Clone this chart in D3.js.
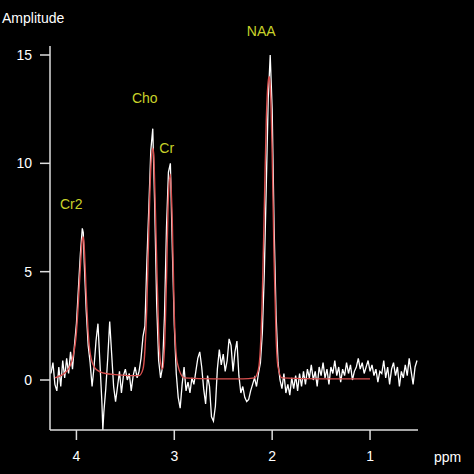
<!DOCTYPE html>
<html><head><meta charset="utf-8">
<script src="https://cdn.jsdelivr.net/npm/d3@7"></script>
<style>body{margin:0;background:#000}</style>
</head><body>
<script>
// measured spectrum (ppm, amplitude)
const specPpm = [4.26,4.24,4.22,4.20,4.18,4.16,4.14,4.12,4.10,4.08,4.06,4.04,4.02,4.00,3.98,3.96,3.94,3.93,3.92,3.90,3.88,3.86,3.84,3.82,3.80,3.78,3.76,3.74,3.73,3.72,3.70,3.68,3.66,3.64,3.62,3.60,3.58,3.56,3.54,3.52,3.50,3.48,3.46,3.44,3.42,3.40,3.38,3.36,3.34,3.32,3.30,3.28,3.26,3.24,3.22,3.20,3.18,3.16,3.14,3.12,3.10,3.08,3.06,3.04,3.02,3.00,
  2.98,2.96,2.94,2.92,2.90,2.88,2.86,2.84,2.82,2.80,2.78,2.76,2.74,2.72,2.70,2.68,2.66,2.64,2.62,2.60,2.58,2.56,2.54,2.52,2.50,2.48,2.46,2.44,2.42,2.40,2.38,2.36,2.34,2.32,2.30,2.28,2.26,2.24,2.22,2.20,2.18,2.16,2.14,
  2.12,2.10,2.08,2.06,2.04,2.02,2.00,1.98,1.96,1.94,1.92,
  1.90,1.88,1.86,1.84,1.82,1.80,1.78,1.76,1.74,1.72,1.70,1.68,1.66,1.64,1.62,1.60,1.58,1.56,1.54,1.52,1.50,1.48,1.46,1.44,1.42,1.40,1.38,1.36,1.34,1.32,1.30,1.28,1.26,1.24,1.22,1.20,1.18,1.16,1.14,1.12,1.10,1.08,1.06,1.04,1.02,1.00,0.98,0.96,0.94,0.92,0.90,0.88,0.86,0.84,0.82,0.80,0.78,0.76,0.74,0.72,0.70,0.68,0.66,0.64,0.62,0.60,0.58,0.56,0.54,0.52];
const specAmp = [0.3,0.8,-0.2,-0.5,0.6,-0.3,0.9,0.1,1.0,0.3,1.3,0.5,1.6,2.6,4.2,5.8,7.0,6.8,5.4,3.2,1.6,0.8,-0.3,0.6,1.8,2.6,0.8,-1.0,-2.3,-1.5,-0.4,1.0,2.7,1.2,-0.3,-1.0,-0.3,0.4,-0.6,0.2,0.5,0.0,0.3,-0.5,0.2,0.6,0.1,0.4,1.0,2.0,2.5,5.5,8.0,10.6,11.6,8.0,3.5,0.9,0.1,0.6,3.0,7.0,9.6,10.0,6.0,2.5,
  0.3,-0.8,-1.3,-0.2,0.6,-0.5,-0.1,-0.6,0.1,-0.2,0.4,1.0,1.3,0.6,-0.4,-1.1,0.2,-0.3,-1.7,-1.9,-1.2,0.5,1.4,0.7,1.2,0.4,0.9,1.9,1.6,0.4,1.3,1.8,0.2,-0.6,-0.3,-0.8,-1.0,-0.9,-0.5,-0.2,0.1,-0.3,0.3,
  0.8,2.2,5.0,9.0,13.0,15.0,12.5,7.0,3.0,0.8,0.0,
  -0.4,0.3,-0.6,-0.2,-0.7,0.1,-0.4,0.2,-0.5,0.3,-0.3,0.4,-0.2,0.5,0.1,0.7,0.0,0.4,-0.3,0.6,0.2,0.8,0.1,0.5,-0.2,0.6,0.3,0.9,0.2,0.6,-0.1,0.5,0.2,0.8,0.3,0.7,0.0,0.4,0.6,1.0,0.5,0.8,0.3,0.6,0.9,0.4,0.7,0.2,0.5,-0.1,0.4,0.3,0.9,0.1,0.6,-0.2,0.5,0.8,0.2,0.6,-0.3,0.4,0.1,0.7,0.2,1.0,0.4,-0.2,0.6,0.9];

// fitted model
const fitPpm = [4.22,4.10,4.04,4.00,3.98,3.96,3.94,3.93,3.92,3.90,3.88,3.85,3.80,3.70,3.60,3.45,3.36,3.32,3.30,3.28,3.26,3.24,3.22,3.21,3.20,3.18,3.16,3.14,3.12,3.10,3.08,3.06,3.04,3.02,3.00,2.97,2.90,2.60,2.30,2.18,2.14,2.12,2.10,2.08,2.06,2.04,2.03,2.02,2.00,1.98,1.96,1.94,1.90,1.50,1.00];
const fitAmp = [0.1,0.4,1.0,2.2,3.6,5.2,6.5,6.6,6.1,4.0,2.2,1.0,0.5,0.3,0.25,0.2,0.2,0.5,1.4,3.5,7.0,9.8,10.7,10.4,9.0,5.5,2.2,0.8,0.5,1.5,4.6,8.5,9.5,7.2,3.0,0.8,0.1,0.05,0.05,0.1,0.5,1.5,4.0,8.0,12.0,13.8,14.0,13.6,10.5,5.5,2.0,0.6,0.1,0.05,0.05];

const yTicks = [0,5,10,15];
const xTicks = [4,3,2,1];
const peakNames = ['NAA','Cho','Cr','Cr2'];
const peakPpm = [2.03,3.22,3.01,3.93];
const peakAmp = [15.9,12.8,10.5,7.8];

const svg = d3.select('body').append('svg')
    .attr('width', 474).attr('height', 474)
    .style('background', '#000')
    .style('font-family', 'Arial, Liberation Sans, sans-serif');

const x = d3.scaleLinear().domain([4.27, 0.51]).range([50, 418]);
const y = d3.scaleLinear().domain([0, 15]).range([380, 55]);

// axes
svg.append('line').attr('x1', 50).attr('x2', 50).attr('y1', 46).attr('y2', 430)
    .attr('stroke', '#ddd').attr('stroke-width', 1.5);
svg.append('line').attr('x1', 50).attr('x2', 418).attr('y1', 430).attr('y2', 430)
    .attr('stroke', '#ddd').attr('stroke-width', 1.5);

svg.selectAll('.yt').data(yTicks).enter().append('line')
    .attr('x1', 40).attr('x2', 50).attr('y1', d => y(d)).attr('y2', d => y(d))
    .attr('stroke', '#ddd').attr('stroke-width', 1.5);
svg.selectAll('.yl').data(yTicks).enter().append('text')
    .attr('x', 32).attr('y', d => y(d) + 5).attr('text-anchor', 'end')
    .attr('fill', '#fff').style('font-size', '14px').text(d => d);

svg.selectAll('.xt').data(xTicks).enter().append('line')
    .attr('x1', d => x(d)).attr('x2', d => x(d)).attr('y1', 430).attr('y2', 440)
    .attr('stroke', '#ddd').attr('stroke-width', 1.5);
svg.selectAll('.xl').data(xTicks).enter().append('text')
    .attr('x', d => x(d)).attr('y', 461).attr('text-anchor', 'middle')
    .attr('fill', '#fff').style('font-size', '14px').text(d => d);

svg.append('text').attr('x', 2).attr('y', 23).attr('fill', '#fff')
    .style('font-size', '14px').text('Amplitude');
svg.append('text').attr('x', 434).attr('y', 462).attr('fill', '#fff')
    .style('font-size', '14px').text('ppm');

// traces
const line = d3.line().x(d => x(d[0])).y(d => y(d[1]));
svg.append('path').datum(d3.zip(specPpm, specAmp))
    .attr('d', line).attr('fill', 'none').attr('stroke', '#fff').attr('stroke-width', 1.3);
svg.append('path').datum(d3.zip(fitPpm, fitAmp))
    .attr('d', line.curve(d3.curveMonotoneX)).attr('fill', 'none')
    .attr('stroke', '#d9504f').attr('stroke-width', 1.4);

// peak labels
svg.selectAll('.pk').data(peakNames).enter().append('text')
    .attr('x', (d, i) => x(peakPpm[i]) + (d === 'Cr' ? -14 : d === 'Cr2' ? -12 : -8))
    .attr('y', (d, i) => y(peakAmp[i]) + (d === 'Cr2' ? -2 : 0))
    .attr('text-anchor', d => d === 'Cr' ? 'start' : 'middle')
    .attr('fill', '#c8d22a').style('font-size', '14px').text(d => d);
</script>
</body></html>
